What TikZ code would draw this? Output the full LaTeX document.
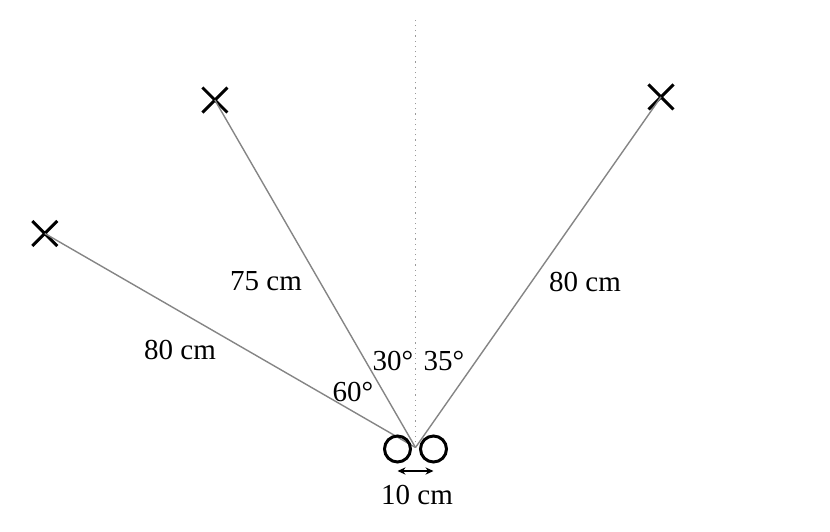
\documentclass[tikz,border=0pt]{standalone}
\usepackage{fontspec}
\setmainfont{Liberation Serif}
\usepackage{tikz}
\usetikzlibrary{calc,arrows.meta,shapes.misc}
\definecolor{ink}{HTML}{000000}
\definecolor{raygray}{HTML}{858585}
\definecolor{axisgray}{HTML}{9A9A9A}
\tikzset{
  ray/.style={draw=raygray, line width=0.7pt},
  axisline/.style={draw=axisgray, dotted, line width=0.6pt},
  xmark/.style={cross out, draw=ink, line width=1.5pt, minimum size=11pt, inner sep=0pt},
  wheel/.style={circle, draw=ink, line width=1.5pt, minimum size=13pt, inner sep=0pt},
  dim/.style={draw=ink, line width=0.8pt, {Stealth[length=4pt,width=3.6pt]}-{Stealth[length=4pt,width=3.6pt]}},
  lab/.style={text=ink, font=\fontsize{14.5}{17}\selectfont, inner sep=0pt},
}

\begin{document}
\begin{tikzpicture}[x=0.5pt,y=0.5pt]
  \useasboundingbox (0,0) rectangle (830,531);
  \def\k{5.35}
  \coordinate (O) at (415.5,83.5);
  \coordinate (T) at (415.5,513);
  \draw[axisline] (O) -- (T);
  \foreach \n/\a/\d in {xl/150/80,xm/120/75,xr/55/80}{
    \node[xmark] (\n) at ($(O)+(\a:\d*\k)$) {};
    \draw[ray] (O) -- (\n.center);
  }
  \node[wheel] (wl) at (397.5,82) {};
  \node[wheel] (wr) at (433.5,82) {};
  \draw[dim] ([yshift=-11pt]wl.center) -- ([yshift=-11pt]wr.center);
  \node[lab] (gap) at (417,36) {10 cm};
  \node[lab] (dl) at (180,181) {80 cm};
  \node[lab] (dm) at (266,250) {75 cm};
  \node[lab] (dr) at (585,249) {80 cm};
  \node[lab] (al) at (353,139) {60°};
  \node[lab] (am) at (393,170) {30°};
  \node[lab] (ar) at (444,170) {35°};
\end{tikzpicture}
\end{document}
